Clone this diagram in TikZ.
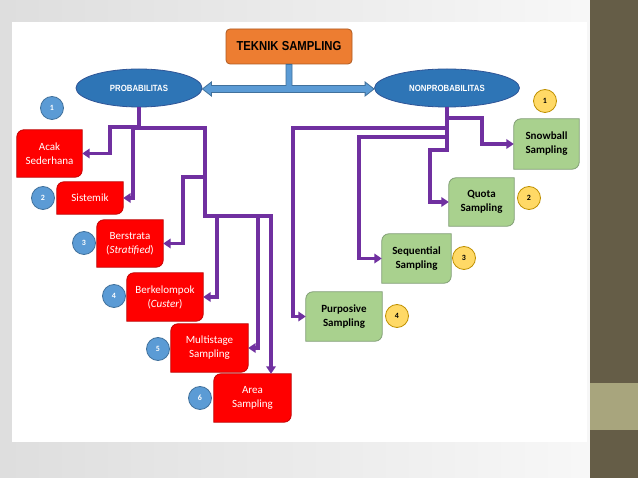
\documentclass[tikz,border=0pt]{standalone}
\usepackage{fontspec}
\setmainfont{Carlito}
\newfontfamily\narrowfont[FakeStretch=0.87]{Liberation Sans}
\usetikzlibrary{shapes.geometric,arrows.meta,backgrounds,calc}
\definecolor{redf}{HTML}{FF0000}
\definecolor{redd}{HTML}{C00000}
\definecolor{greenf}{HTML}{A9D18E}
\definecolor{greend}{HTML}{7F9C73}
\definecolor{ellf}{HTML}{2E75B6}
\definecolor{elld}{HTML}{2F5597}
\definecolor{circb}{HTML}{5B9BD5}
\definecolor{circbd}{HTML}{41719C}
\definecolor{yel}{HTML}{FFD966}
\definecolor{yeld}{HTML}{BF9000}
\definecolor{orng}{HTML}{ED7D31}
\definecolor{orngd}{HTML}{AE5A21}
\definecolor{purp}{HTML}{7030A0}
\definecolor{barf}{HTML}{5B9BD5}
\definecolor{bard}{HTML}{41719C}
\definecolor{olive}{HTML}{655D47}
\definecolor{olivel}{HTML}{A8A57D}
\newcommand\diagbox[2]{%
  \path[#2] ([yshift=-7pt]#1.north west) arc[start angle=180,end angle=90,radius=7pt]
    -- (#1.north east) -- ([yshift=7pt]#1.south east) arc[start angle=0,end angle=-90,radius=7pt]
    -- (#1.south west) -- cycle;}
\tikzset{
  rbox/.style={text=white, align=center, font=\fontsize{11}{14}\selectfont, inner sep=0pt},
  gbox/.style={text=black, align=center, font=\bfseries\fontsize{11}{14}\selectfont, inner sep=0pt},
  rshape/.style={fill=redf, draw=redd, line width=0.8pt},
  gshape/.style={fill=greenf, draw=greend, line width=0.8pt},
  ell/.style={ellipse, fill=ellf, draw=elld, line width=0.8pt, text=white, inner sep=0pt,
    font=\narrowfont\bfseries\fontsize{9}{10}\selectfont},
  bcirc/.style={circle, fill=circb, draw=circbd, line width=0.8pt, minimum size=23pt, inner sep=0pt,
    text=white, font=\bfseries\fontsize{8}{8}\selectfont},
  ycirc/.style={circle, fill=yel, draw=yeld, line width=0.8pt, minimum size=23pt, inner sep=0pt,
    text=black, font=\bfseries\fontsize{8}{8}\selectfont},
  titlebox/.style={rectangle, rounded corners=4pt, fill=orng, draw=orngd, line width=0.8pt,
    minimum width=126pt, minimum height=35pt, inner sep=0pt,
    font=\narrowfont\bfseries\fontsize{13}{14}\selectfont},
  pline/.style={draw=purp, line width=3.1pt},
  parr/.style={draw=purp, line width=3.1pt, -{Triangle[length=7.5pt,width=9.5pt]}},
  barrow/.style={fill=barf, draw=bard, line width=0.8pt, line join=miter}
}
\begin{document}
\begin{tikzpicture}[x=1pt,y=-1pt]
\useasboundingbox (0,0) rectangle (638,478);

% title and categories
\node[titlebox] (title) at (289,46.5) {TEKNIK SAMPLING};
\node[ell, minimum width=126pt, minimum height=38pt] (prob) at (139,88) {PROBABILITAS};
\node[ell, minimum width=145pt, minimum height=38pt] (nonprob) at (447,88) {NONPROBABILITAS};

% red boxes
\node[rbox, minimum width=65pt, minimum height=47pt] (acak) at (49.5,153.5) {Acak\\Sederhana};
\node[rbox, minimum width=66pt, minimum height=32pt] (sistemik) at (90,198) {Sistemik};
\node[rbox, minimum width=66pt, minimum height=47pt] (berstrata) at (130,243.5) {Berstrata\\(\textit{Stratified})};
\node[rbox, minimum width=76pt, minimum height=48pt] (berkelompok) at (165,297) {Berkelompok\\(\textit{Custer})};
\node[rbox, minimum width=77pt, minimum height=48pt] (multistage) at (209.5,348) {Multistage\\Sampling};
\node[rbox, minimum width=77pt, minimum height=48pt] (area) at (252.5,398) {Area\\Sampling};

% green boxes
\node[gbox, minimum width=65pt, minimum height=50pt] (snowball) at (546.5,144) {Snowball\\Sampling};
\node[gbox, minimum width=65pt, minimum height=48pt] (quota) at (481.5,202) {Quota\\Sampling};
\node[gbox, minimum width=69pt, minimum height=49pt] (sequential) at (416.5,258.5) {Sequential\\Sampling};
\node[gbox, minimum width=76pt, minimum height=49pt] (purposive) at (344,316.5) {Purposive\\Sampling};

% number circles
\node[bcirc] (b1) at (52,108) {1};
\node[bcirc] (b2) at (43,198) {2};
\node[bcirc] (b3) at (84,243) {3};
\node[bcirc] (b4) at (114,296) {4};
\node[bcirc] (b5) at (158,349) {5};
\node[bcirc] (b6) at (200,398) {6};
\node[ycirc] (y1) at (545,101) {1};
\node[ycirc] (y2) at (529,198) {2};
\node[ycirc] (y3) at (464,258) {3};
\node[ycirc] (y4) at (397,316) {4};

% slide background and box shapes
\begin{scope}[on background layer]
  \shade[left color=black!13, right color=black!3] (0,0) rectangle (590,478);
  \fill[white] (12,22) rectangle (587,442);
  \fill[olive] (590,0) rectangle (638,478);
  \fill[olivel] (590,383) rectangle (638,430);
  \foreach \n in {acak,sistemik,berstrata,berkelompok,multistage,area} {\diagbox{\n}{rshape}}
  \foreach \n in {snowball,quota,sequential,purposive} {\diagbox{\n}{gshape}}
\end{scope}

% blue connector: stem from title plus double arrow between the ellipses
\filldraw[barrow] let \p1=(prob.east), \p2=(nonprob.west), \p3=(title.south) in
  (\x1,\y1-1pt) -- ++(9pt,7pt) -- ++(0,-3.5pt) -- (\x3-3pt,\y1+2.5pt) -- (\x3-3pt,\y3)
  -- (\x3+3pt,\y3) -- (\x3+3pt,\y1+2.5pt) -- (\x2-9pt,\y1+2.5pt) -- ++(0,3.5pt)
  -- (\x2,\y2-1pt) -- ++(-9pt,-7pt) -- ++(0,3.5pt) -- (\x1+9pt,\y1-4.5pt) -- ++(0,-3.5pt) -- cycle;

% purple connectors, left
\coordinate (pj) at (131,128);
\coordinate (aj) at (271,216);
\draw[parr] (prob.south) |- (110,127) |- (acak.east);
\draw[parr] (pj) -- (205,128) -- (205,216) -- (aj) -- (aj |- area.north);
\draw[parr] (133,128) |- (sistemik.east);
\draw[parr] (205,177) -- (183,177) |- (berstrata.east);
\draw[parr] (217,216) |- (berkelompok.east);
\draw[parr] (258,216) |- (multistage.east);

% purple connectors, right
\draw[parr] (nonprob.south) |- (430,150) |- (quota.west);
\draw[parr] (447,118) -- (482,118) |- (snowball.west);
\draw[parr] (447,128) -- (293,128) |- (purposive.west);
\draw[parr] (447,137) -- (359,137) |- (sequential.west);
\end{tikzpicture}
\end{document}
